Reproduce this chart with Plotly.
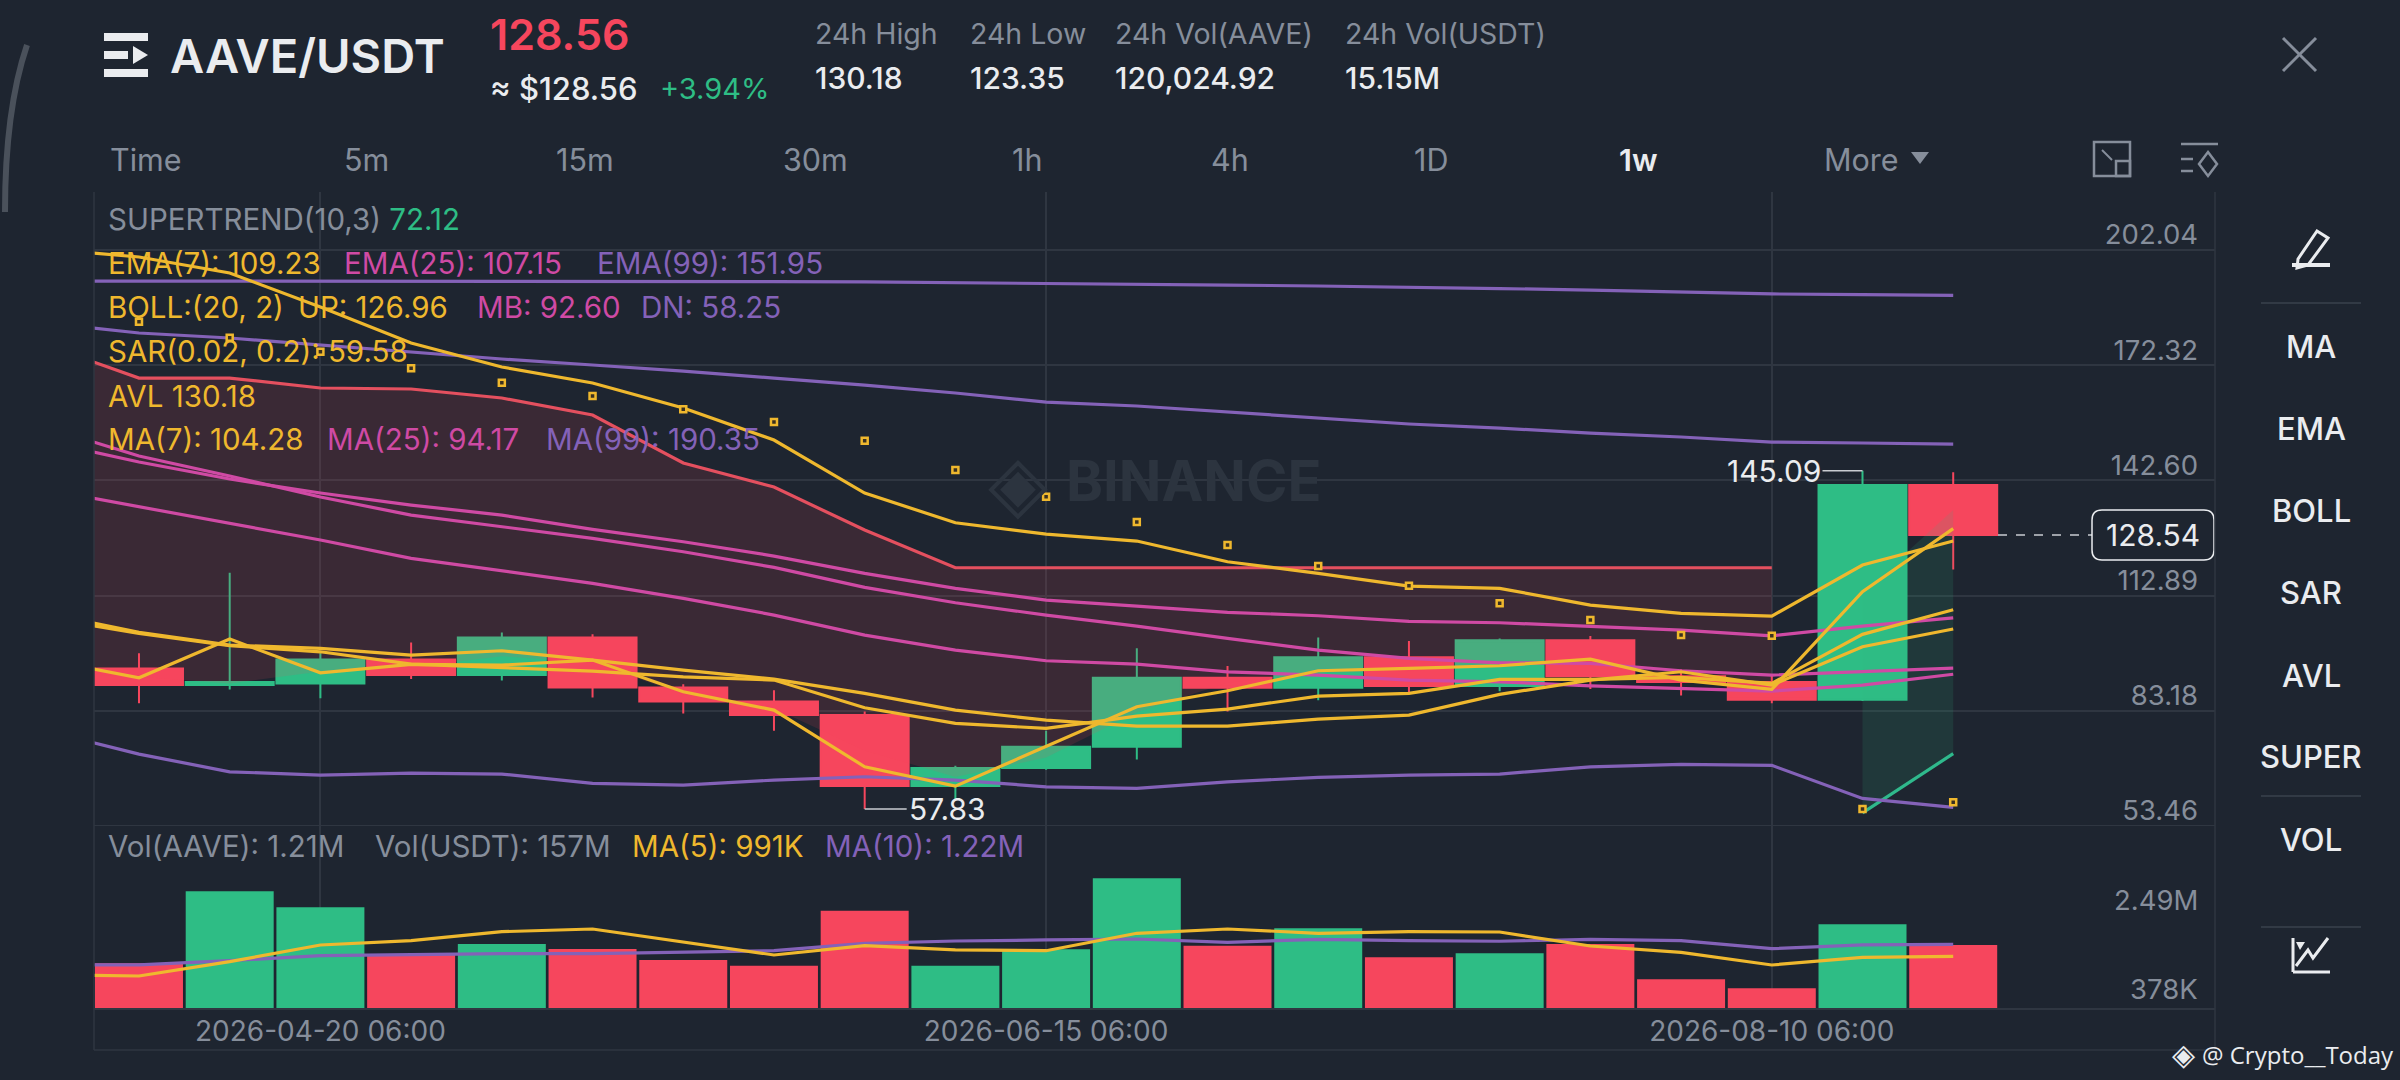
#!/usr/bin/env python3
# AAVE/USDT 1w chart screen, Binance dark theme
import plotly.graph_objects as go

# --- candles (weekly) ---
DATES = ["2026-04-06 06:00", "2026-04-13 06:00", "2026-04-20 06:00", "2026-04-27 06:00", "2026-05-04 06:00",
         "2026-05-11 06:00", "2026-05-18 06:00", "2026-05-25 06:00", "2026-06-01 06:00", "2026-06-08 06:00",
         "2026-06-15 06:00", "2026-06-22 06:00", "2026-06-29 06:00", "2026-07-06 06:00", "2026-07-13 06:00",
         "2026-07-20 06:00", "2026-07-27 06:00", "2026-08-03 06:00", "2026-08-10 06:00", "2026-08-17 06:00",
         "2026-08-24 06:00"]
# week before the first visible candle, the indicator lines come in from it
PREV_DATE = "2026-03-30 06:00"
LINE_DATES = [PREV_DATE] + DATES

OPEN = [94.1, 89.8, 90.2, 96.4, 92.4, 102.1, 89.2, 85.6, 82.1, 63.8, 68.4, 73.9, 91.7, 89.1, 97.0, 89.6, 101.4, 92.1, 90.6, 86.0, 141.4]
HIGH = [98.0, 118.8, 98.0, 100.8, 103.4, 102.9, 90.0, 88.5, 83.0, 69.0, 78.0, 99.3, 94.7, 102.1, 101.2, 101.8, 102.5, 93.9, 92.4, 145.09, 144.7]
LOW = [85.1, 88.7, 86.4, 91.4, 91.0, 86.6, 82.5, 78.0, 57.83, 60.1, 68.0, 70.6, 83.0, 85.9, 87.7, 88.2, 88.8, 87.1, 85.1, 85.7, 119.6]
CLOSE = [89.8, 90.6, 96.4, 92.4, 102.1, 89.2, 85.6, 82.1, 63.8, 68.4, 73.9, 91.7, 89.1, 97.0, 89.6, 101.4, 92.1, 90.6, 86.0, 141.4, 128.54]

# --- overlays, first value is the off-screen week ---
MA7 = [108.2, 103.41, 100.13, 99.28, 97.55, 98.66, 96.26, 93.68, 91.36, 87.67, 83.36, 80.78, 79.23, 79.23, 81.04, 82.07, 87.41, 91.10, 93.24, 89.81, 99.69, 104.28]
EMA7 = [107.1, 103.15, 99.95, 98.40, 95.23, 94.27, 93.42, 91.95, 91.10, 83.95, 79.93, 78.63, 81.81, 83.62, 86.97, 87.67, 91.28, 91.28, 91.80, 90.25, 102.89, 109.23]
AVL = [96.18, 91.69, 101.68, 92.98, 95.15, 94.97, 96.26, 88.08, 83.36, 68.74, 63.75, 73.89, 84.21, 88.34, 93.50, 94.12, 94.79, 96.52, 91.10, 88.70, 113.88, 130.18]
BOLL_UP = [202.3, 200.23, 196.11, 187.33, 178.05, 171.85, 167.73, 161.28, 153.02, 139.35, 131.68, 128.77, 126.96, 121.62, 118.63, 115.35, 114.76, 110.45, 108.31, 107.61, 120.77, 126.96]
BOLL_MB = [140.12, 135.81, 131.53, 127.22, 122.50, 119.30, 116.05, 112.18, 107.87, 102.71, 98.84, 96.08, 95.23, 93.24, 92.39, 91.10, 90.66, 89.63, 88.95, 88.26, 89.81, 92.60]
BOLL_DN = [77.86, 72.01, 67.44, 66.59, 67.11, 66.85, 64.45, 64.01, 65.30, 66.16, 65.30, 63.57, 63.16, 64.86, 66.0, 66.59, 66.85, 68.73, 69.35, 69.1, 60.58, 58.25]
EMA25 = [152.5, 147.34, 142.96, 139.35, 136.25, 133.67, 129.98, 126.78, 123.09, 118.63, 114.76, 111.74, 110.19, 108.57, 107.69, 106.25, 105.89, 104.85, 104.0, 102.53, 105.03, 107.15]
MA25 = [156.12, 148.89, 143.73, 138.31, 133.67, 130.65, 127.66, 124.2, 120.17, 115.02, 111.04, 107.87, 105.03, 101.86, 98.84, 96.7, 95.56, 95.41, 93.5, 92.39, 93.24, 94.17]
EMA99 = [183.2, 180.63, 179.34, 177.53, 175.72, 173.92, 172.37, 170.82, 169.0, 167.2, 165.15, 162.8, 161.8, 160.2, 158.7, 157.15, 156.1, 154.8, 153.8, 152.5, 152.25, 151.95]
MA99 = [194.04, 194.04, 194.04, 194.04, 194.04, 193.9, 194.04, 194.04, 193.9, 193.8, 193.65, 193.4, 193.27, 193.0, 192.75, 192.5, 192.1, 191.7, 191.2, 190.7, 190.55, 190.35]
SAR = [183.54, 179.41, 175.80, 171.52, 167.8, 164.37, 160.94, 157.66, 152.84, 145.28, 138.39, 131.86, 125.93, 120.51, 115.43, 110.89, 106.58, 102.71, 102.53, 57.82, 59.58]
# supertrend: red runs up to 2026-08-10, green takes over after it
ST_DOWN = [177.27, 169.01, 169.01, 166.44, 166.18, 163.86, 159.47, 147.09, 140.89, 129.8, 120.07, 120.07, 120.07, 120.07, 120.07, 120.07, 120.07, 120.07, 120.07, 120.07]
ST_UP = [56.86, 72.12]
PREV_MID = 93.0

# --- volume ---
VOLUME = [858e3, 2.24e6, 1.933e6, 1.018e6, 1.229e6, 1.133e6, 922e3, 812e3, 1.868e6, 812e3, 1.127e6, 2.49e6, 1.196e6, 1.53e6, 973e3, 1.05e6, 1.229e6, 551e3, 378e3, 1.607e6, 1.21e6]
VOL_MA5 = [636e3, 614e3, 889e3, 1.21e6, 1.292e6, 1.465e6, 1.517e6, 1.273e6, 1.018e6, 1.196e6, 1.114e6, 1.10e6, 1.434e6, 1.517e6, 1.434e6, 1.465e6, 1.459e6, 1.19e6, 1.069e6, 826e3, 973e3, 991e3]
VOL_MA10 = [826e3, 826e3, 908e3, 1.004e6, 1.023e6, 1.043e6, 1.043e6, 1.075e6, 1.10e6, 1.242e6, 1.286e6, 1.306e6, 1.325e6, 1.261e6, 1.319e6, 1.292e6, 1.281e6, 1.319e6, 1.292e6, 1.139e6, 1.21e6, 1.22e6]

PRICE_TICKS = [202.04, 172.32, 142.60, 112.89, 83.18, 53.46]
TIME_TICKS = ["2026-04-20 06:00", "2026-06-15 06:00", "2026-08-10 06:00"]
LAST_PRICE = 128.54

BG = "#1e2530"
GRID = "#2f3641"
GRAY = "#868e9b"
WHITE = "#eaecef"
RED = "#f6465d"
GREEN = "#2ebd85"
YELLOW = "#efb82e"
MAGENTA = "#cf4aa4"
PURPLE = "#8462b8"
FONT = "Inter"
W, H = 2400, 1080
WEEK_MS = 7 * 24 * 3600 * 1000
LINE_W = 3.2


def px(x):
    return x / W


def py(y):
    return 1 - y / H


fig = go.Figure()

# --- price pane ---
fig.add_trace(go.Candlestick(
    x=DATES, open=OPEN, high=HIGH, low=LOW, close=CLOSE, xaxis="x", yaxis="y", whiskerwidth=0,
    increasing=dict(line=dict(color=GREEN, width=2), fillcolor=GREEN),
    decreasing=dict(line=dict(color=RED, width=2), fillcolor=RED),
    hoverinfo="skip", showlegend=False))

# supertrend fills run down to the candle body middle
mid = [(o + c) / 2 for o, c in zip(OPEN, CLOSE)]
down_mid = [PREV_MID] + mid[:19]
fig.add_trace(go.Scatter(x=LINE_DATES[:20], y=down_mid, mode="lines", line=dict(width=0), hoverinfo="skip"))
fig.add_trace(go.Scatter(x=LINE_DATES[:20], y=ST_DOWN, mode="lines", line=dict(color="#e4505f", width=LINE_W),
                         fill="tonexty", fillcolor="rgba(246,70,93,0.13)", hoverinfo="skip"))
fig.add_trace(go.Scatter(x=DATES[19:], y=mid[19:], mode="lines", line=dict(width=0), hoverinfo="skip"))
fig.add_trace(go.Scatter(x=DATES[19:], y=ST_UP, mode="lines", line=dict(color="#2fb98c", width=LINE_W),
                         fill="tonexty", fillcolor="rgba(46,189,133,0.13)", hoverinfo="skip"))

for values, color in [(MA99, PURPLE), (EMA99, PURPLE), (BOLL_DN, PURPLE), (EMA25, MAGENTA), (MA25, MAGENTA),
                      (BOLL_MB, MAGENTA), (BOLL_UP, YELLOW), (MA7, YELLOW), (EMA7, YELLOW), (AVL, YELLOW)]:
    fig.add_trace(go.Scatter(x=LINE_DATES, y=values, mode="lines", line=dict(color=color, width=LINE_W), hoverinfo="skip"))

fig.add_trace(go.Scatter(x=DATES, y=SAR, mode="markers", hoverinfo="skip",
                         marker=dict(symbol="square", size=6, color="#3a3020", line=dict(color=YELLOW, width=2.5))))

# --- volume pane ---
fig.add_trace(go.Bar(x=DATES, y=VOLUME, xaxis="x2", yaxis="y2", width=WEEK_MS * 0.97, hoverinfo="skip",
                     marker=dict(color=[GREEN if c >= o else RED for o, c in zip(OPEN, CLOSE)], line=dict(width=0))))
fig.add_trace(go.Scatter(x=LINE_DATES, y=VOL_MA10, xaxis="x2", yaxis="y2", mode="lines",
                         line=dict(color=PURPLE, width=LINE_W), hoverinfo="skip"))
fig.add_trace(go.Scatter(x=LINE_DATES, y=VOL_MA5, xaxis="x2", yaxis="y2", mode="lines",
                         line=dict(color=YELLOW, width=LINE_W), hoverinfo="skip"))

annotations = []
shapes = []


def label(x, y, text, size=28, color=GRAY, anchor="left", weight=400, family=FONT):
    annotations.append(dict(x=px(x), y=py(y), xref="paper", yref="paper", text=text, showarrow=False,
                            xanchor=anchor, yanchor="middle", xshift=-2 if anchor == "left" else 0,
                            font=dict(family=family, size=size, color=color, weight=weight)))


def seg(x0, y0, x1, y1, color=GRID, width=1.5, dash="solid"):
    shapes.append(dict(type="line", xref="paper", yref="paper", x0=px(x0), y0=py(y0), x1=px(x1), y1=py(y1),
                       line=dict(color=color, width=width, dash=dash), layer="above"))


def path(points, color=None, fill=None, width=2, close=False):
    d = "M" + " L".join(f"{px(x):.5f},{py(y):.5f}" for x, y in points) + (" Z" if close else "")
    shapes.append(dict(type="path", xref="paper", yref="paper", path=d, layer="above",
                       fillcolor=fill or "rgba(0,0,0,0)", line=dict(color=color or "rgba(0,0,0,0)", width=width)))


# header
label(170, 55, "AAVE/USDT", 47, WHITE, weight=600)
label(490, 34, "128.56", 43, RED, weight=600)
label(490, 88, "≈ $128.56", 31, WHITE, weight=500)
label(660, 88, "+3.94%", 29, GREEN)
for x, name, value in [(815, "24h High", "130.18"), (970, "24h Low", "123.35"),
                       (1115, "24h Vol(AAVE)", "120,024.92"), (1345, "24h Vol(USDT)", "15.15M")]:
    label(x, 34, name, 28.5, GRAY)
    label(x, 78, value, 30, WHITE, weight=500)

# period tabs
for x, name in [(110, "Time"), (344, "5m"), (556, "15m"), (783, "30m"), (1012, "1h"), (1211, "4h"), (1414, "1D"), (1824, "More")]:
    label(x, 159, name, 30.5, GRAY)
label(1619, 159, "1w", 30.5, WHITE, weight=600)
path([(1911, 152), (1929, 152), (1920, 164)], fill=GRAY, width=0, close=True)

# indicator legends
label(108, 219, 'SUPERTREND(10,3) <span style="color:%s">72.12</span>' % GREEN, 29.5, GRAY)
for y, items in [
    (263, [(108, "EMA(7): 109.23", YELLOW), (344, "EMA(25): 107.15", MAGENTA), (597, "EMA(99): 151.95", PURPLE)]),
    (307, [(108, "BOLL:(20, 2)", YELLOW), (298, "UP: 126.96", YELLOW), (477, "MB: 92.60", MAGENTA), (641, "DN: 58.25", PURPLE)]),
    (351, [(108, "SAR(0.02, 0.2): 59.58", YELLOW)]),
    (396, [(108, "AVL 130.18", YELLOW)]),
    (439, [(108, "MA(7): 104.28", YELLOW), (327, "MA(25): 94.17", MAGENTA), (546, "MA(99): 190.35", PURPLE)]),
    (846, [(108, "Vol(AAVE): 1.21M", GRAY), (375, "Vol(USDT): 157M", GRAY), (632, "MA(5): 991K", YELLOW), (825, "MA(10): 1.22M", PURPLE)]),
]:
    for x, text, color in items:
        label(x, y, text, 29.5, color)

# watermark
label(1018, 481, "◈", 78, "#2c343f", anchor="center")
label(1066, 481, "BINANCE", 56, "#2c343f", weight=700)
label(2183, 1054, "◈", 30, WHITE, anchor="center")
label(2202, 1054, "@ Crypto__Today", 24, WHITE, family="Open Sans")

# volume axis labels sit next to the extreme bars
annotations.append(dict(x=px(2200), xref="paper", y=2.49e6, yref="y2", text="2.49M", showarrow=False, xanchor="right",
                        yanchor="top", yshift=-3, font=dict(family=FONT, size=27.5, color=GRAY)))
annotations.append(dict(x=px(2200), xref="paper", y=378e3, yref="y2", text="378K", showarrow=False, xanchor="right",
                        yanchor="middle", yshift=-1, font=dict(family=FONT, size=27.5, color=GRAY)))

# high / low callouts
annotations.append(dict(x=DATES[19], y=HIGH[19], xref="x", yref="y", text="145.09", ax=-40, ay=0, xanchor="right",
                        showarrow=True, arrowhead=0, arrowwidth=1.5, arrowcolor="#c9ccd1",
                        font=dict(family=FONT, size=30, color=WHITE)))
annotations.append(dict(x=DATES[8], y=LOW[8], xref="x", yref="y", text="57.83", ax=42, ay=0, xanchor="left",
                        showarrow=True, arrowhead=0, arrowwidth=1.5, arrowcolor="#c9ccd1",
                        font=dict(family=FONT, size=30, color=WHITE)))

# last price tag
shapes.append(dict(type="line", xref="paper", yref="y", x0=px(1998), x1=px(2092), y0=LAST_PRICE, y1=LAST_PRICE,
                   line=dict(color="#c9ccd1", width=1.5, dash="dash")))
x0, x1, y0, y1, r = 2092, 2214, 510, 560, 10
tag = (f"M{px(x0 + r):.5f},{py(y0):.5f} L{px(x1 - r):.5f},{py(y0):.5f} Q{px(x1):.5f},{py(y0):.5f} {px(x1):.5f},{py(y0 + r):.5f} "
       f"L{px(x1):.5f},{py(y1 - r):.5f} Q{px(x1):.5f},{py(y1):.5f} {px(x1 - r):.5f},{py(y1):.5f} "
       f"L{px(x0 + r):.5f},{py(y1):.5f} Q{px(x0):.5f},{py(y1):.5f} {px(x0):.5f},{py(y1 - r):.5f} "
       f"L{px(x0):.5f},{py(y0 + r):.5f} Q{px(x0):.5f},{py(y0):.5f} {px(x0 + r):.5f},{py(y0):.5f} Z")
shapes.append(dict(type="path", xref="paper", yref="paper", path=tag, layer="above", fillcolor=BG,
                   line=dict(color=WHITE, width=1.5)))
label(2153, 535, "128.54", 30, WHITE, anchor="center")

# frame
seg(94, 192, 94, 1050)
seg(2215, 192, 2215, 1050)
seg(94, 1050, 2215, 1050)

# side menu
for y, name in [(346, "MA"), (428, "EMA"), (510, "BOLL"), (592, "SAR"), (675, "AVL"), (756, "SUPER"), (839, "VOL")]:
    label(2311, y, name, 31, WHITE, anchor="center", weight=500)
for y in (303, 796, 927):
    seg(2261, y, 2361, y, "#3a424d", 1.5)

# icons
path([(2298, 259), (2317, 231), (2328, 238), (2308, 265), (2297, 268)], color=WHITE, width=3, close=True)
seg(2292, 265, 2330, 265, WHITE, 4)
seg(2293, 972, 2330, 972, WHITE, 3)
seg(2293, 938, 2293, 972, WHITE, 3)
path([(2296, 942), (2305, 942), (2300, 950)], fill=WHITE, width=0, close=True)
path([(2296, 966), (2308, 950), (2313, 958), (2328, 938)], color=WHITE, width=3)
seg(2283, 38, 2316, 71, GRAY, 3)
seg(2316, 38, 2283, 71, GRAY, 3)
# pane resize and settings buttons
path([(2094, 142), (2130, 142), (2130, 176), (2094, 176)], color=GRAY, width=2.5, close=True)
path([(2116, 161), (2130, 161), (2130, 176), (2116, 176)], color=GRAY, width=2.5, close=True)
seg(2102, 150, 2112, 160, GRAY, 2)
seg(2181, 144, 2218, 144, GRAY, 2.5)
seg(2181, 159, 2193, 159, GRAY, 2.5)
seg(2181, 171, 2193, 171, GRAY, 2.5)
path([(2208, 152), (2217, 164), (2208, 176), (2199, 164)], color=GRAY, width=2.5, close=True)
# menu glyph beside the pair name
for y0, x1 in [(37, 148), (73, 148)]:
    path([(104, y0 - 4), (x1, y0 - 4), (x1, y0 + 4), (104, y0 + 4)], fill=WHITE, width=0, close=True)
path([(104, 51), (128, 51), (128, 59), (104, 59)], fill=WHITE, width=0, close=True)
path([(133, 46), (148, 55), (133, 64)], fill=WHITE, width=0, close=True)
# edge of the drawer on the far left
shapes.append(dict(type="path", xref="paper", yref="paper", layer="above", line=dict(color="#4a515b", width=6),
                   path=f"M{px(27):.5f},{py(45):.5f} Q{px(5):.5f},{py(110):.5f} {px(5):.5f},{py(212):.5f}"))

fig.update_layout(
    width=W, height=H, margin=dict(l=0, r=0, t=0, b=0), paper_bgcolor=BG, plot_bgcolor=BG,
    showlegend=False, boxmode="overlay", boxgap=0.03, boxgroupgap=0, bargap=0.03, hovermode=False,
    font=dict(family=FONT, color=GRAY),
    xaxis=dict(domain=[px(94), px(2215)], anchor="y", matches="x2", type="date", range=["2026-04-02 18:41", "2026-09-13 10:50"],
               rangeslider=dict(visible=False), tickmode="array", tickvals=TIME_TICKS, showticklabels=False,
               showgrid=True, gridcolor=GRID, gridwidth=1.5, zeroline=False, ticks="", showline=False),
    # pane runs 10px past the 53.46 line so that the last tick label is kept
    yaxis=dict(domain=[py(836), py(192)], anchor="x", side="right", range=[50.88, 217.0], tickmode="array",
               tickvals=PRICE_TICKS, ticktext=["%.2f" % t for t in PRICE_TICKS], ticklabelposition="inside top",
               ticklabelstandoff=14, ticklabelshift=4, tickfont=dict(family=FONT, size=27.5, color=GRAY), showgrid=True,
               gridcolor=GRID, gridwidth=1.5, zeroline=False, ticks=""),
    xaxis2=dict(domain=[px(94), px(2215)], anchor="y2", type="date", range=["2026-04-02 18:41", "2026-09-13 10:50"],
                tickmode="array", tickvals=TIME_TICKS, tickformat="%Y-%m-%d %H:%M",
                tickfont=dict(family=FONT, size=28, color=GRAY), showgrid=True, gridcolor=GRID, gridwidth=1.5,
                showline=True, linecolor=GRID, linewidth=1.5, zeroline=False, ticks="", ticklabelstandoff=-2),
    yaxis2=dict(domain=[py(1008), py(826)], anchor="x2", side="right", range=[0, 3.494e6], showgrid=False,
                showticklabels=False, zeroline=False, ticks=""),
    annotations=annotations, shapes=shapes,
)

fig.write_html("out.html", config=dict(displayModeBar=False), post_script="document.body.style.margin='0';")
